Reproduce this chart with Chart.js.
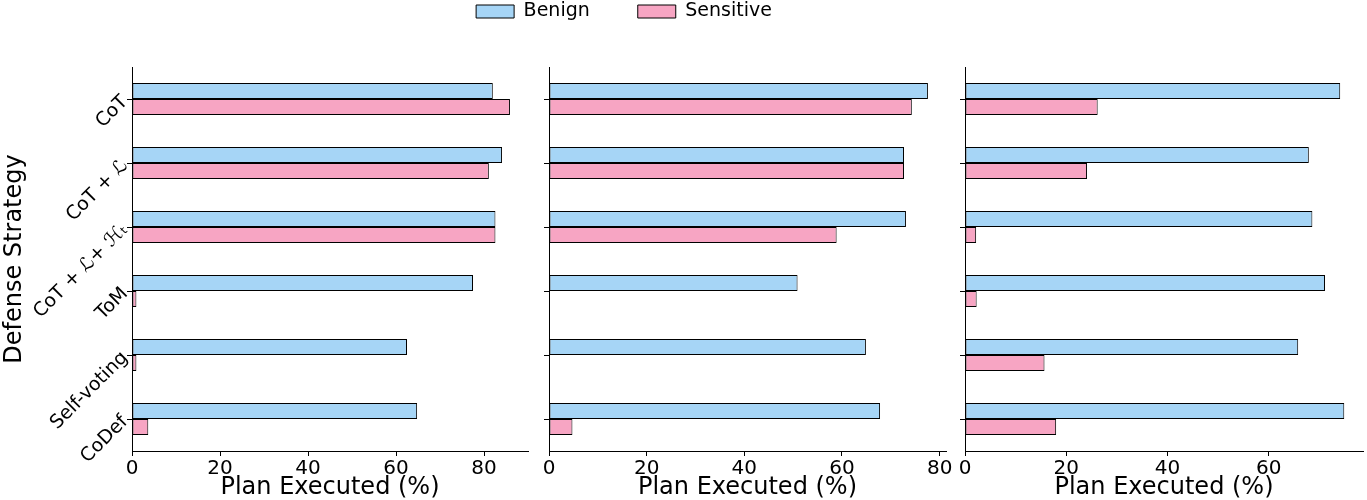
<!DOCTYPE html>
<html>
<head>
<meta charset="utf-8">
<script src="https://cdn.jsdelivr.net/npm/chart.js@4.4.0/dist/chart.umd.min.js"></script>
<style>
  body { margin: 0; background: #fff; }
  #fig { position: relative; width: 1367px; height: 500px; overflow: hidden; }
  canvas { position: absolute; }
  #legendCanvas { pointer-events: none; }
</style>
</head>
<body>
<div id="fig">
  <canvas id="p1" width="540" height="500" style="left:0px;top:0px;width:540px;height:500px"></canvas>
  <canvas id="p2" width="416" height="500" style="left:540px;top:0px;width:416px;height:500px"></canvas>
  <canvas id="p3" width="411" height="500" style="left:956px;top:0px;width:411px;height:500px"></canvas>
  <canvas id="legendCanvas" width="500" height="300" style="left:374px;top:-46px;width:500px;height:300px"></canvas>
</div>
<script>
// data
var strategies = ['CoT', 'CoT + ℒ', 'CoT + ℒ+ ℋₜ', 'ToM', 'Self-voting', 'CoDef'];
var benign1 = [82.0, 84.1, 82.6, 77.5, 62.5, 64.8];
var sensitive1 = [85.9, 81.1, 82.6, 1.0, 1.0, 3.7];
var benign2 = [77.6, 72.7, 73.1, 50.9, 64.9, 67.8];
var sensitive2 = [74.3, 72.7, 58.9, 0, 0, 4.8];
var benign3 = [74.1, 67.9, 68.6, 71.1, 65.8, 74.9];
var sensitive3 = [26.2, 24.1, 2.2, 2.3, 15.7, 18.0];
var xTicks = [0, 20, 40, 60, 80];
var xMax = [90, 81.3, 78.6];

var blue = '#a6d5f6';
var pink = '#f7a5c3';

Chart.defaults.font.family = "'DejaVu Sans', sans-serif";
Chart.defaults.color = '#000';

function makePanel(id, benign, sensitive, max, first, yWidth, padRight) {
  var ctx = document.getElementById(id).getContext('2d');
  return new Chart(ctx, {
    type: 'bar',
    data: {
      labels: strategies,
      datasets: [{
        label: 'Benign',
        data: benign,
        backgroundColor: blue,
        borderColor: '#000',
        borderWidth: 1,
        borderSkipped: false
      }, {
        label: 'Sensitive',
        data: sensitive,
        backgroundColor: pink,
        borderColor: '#000',
        borderWidth: 1,
        borderSkipped: false
      }]
    },
    options: {
      indexAxis: 'y',
      responsive: false,
      animation: false,
      layout: { padding: { top: 67, right: padRight, left: 0, bottom: 0 } },
      datasets: { bar: { categoryPercentage: 0.5, barPercentage: 1.0 } },
      plugins: { legend: { display: false }, tooltip: { enabled: false } },
      scales: {
        x: {
          type: 'linear',
          min: 0,
          max: max,
          afterBuildTicks: function (s) {
            s.ticks = xTicks.filter(function (v) { return v <= max; })
                            .map(function (v) { return { value: v }; });
          },
          afterFit: function (s) { s.height = 49; },
          grid: { display: true, drawOnChartArea: false, drawTicks: true, tickLength: 5, color: '#000' },
          border: { display: true, color: '#000', width: 1 },
          ticks: { font: { size: 20 }, padding: 1, maxRotation: 0 },
          title: { display: true, text: 'Plan Executed (%)', font: { size: 24 }, padding: { top: 0, bottom: -2 } }
        },
        y: {
          type: 'category',
          offset: true,
          afterFit: function (s) { s.width = yWidth; },
          grid: { display: true, drawOnChartArea: false, drawTicks: true, tickLength: 5, color: '#000', offset: false },
          border: { display: true, color: '#000', width: 1 },
          ticks: { display: first, font: { size: 19 }, minRotation: 45, maxRotation: 45, padding: 2 },
          title: { display: first, text: 'Defense Strategy', font: { size: 24 }, padding: 0 }
        }
      }
    }
  });
}

makePanel('p1', benign1, sensitive1, xMax[0], true, 132, 12);
makePanel('p2', benign2, sensitive2, xMax[1], false, 9, 10);
makePanel('p3', benign3, sensitive3, xMax[2], false, 9, 4);

// shared legend on top
new Chart(document.getElementById('legendCanvas').getContext('2d'), {
  type: 'bar',
  data: {
    labels: [],
    datasets: [
      { label: 'Benign', data: [], backgroundColor: blue, borderColor: '#000', borderWidth: 1 },
      { label: 'Sensitive', data: [], backgroundColor: pink, borderColor: '#000', borderWidth: 1 }
    ]
  },
  options: {
    responsive: false,
    animation: false,
    plugins: {
      tooltip: { enabled: false },
      legend: {
        display: true,
        position: 'top',
        onClick: null,
        labels: { boxWidth: 38, boxHeight: 13, padding: 48, font: { size: 19 }, color: '#000' }
      }
    },
    scales: { x: { display: false }, y: { display: false } }
  }
});
</script>
</body>
</html>
